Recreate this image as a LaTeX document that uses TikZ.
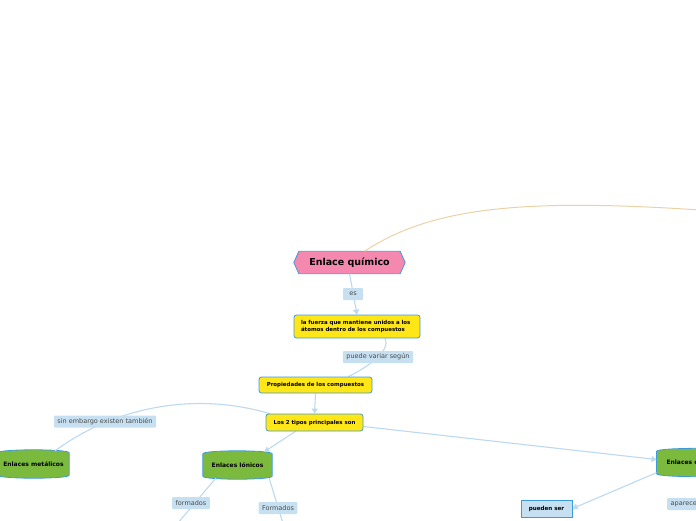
\documentclass[tikz,border=0pt]{standalone}
\usepackage{fontspec}
\setmainfont{DejaVu Sans}
\usetikzlibrary{arrows.meta,backgrounds}
\definecolor{pinkfill}{HTML}{F488AE}
\definecolor{bborder}{HTML}{3E9BDA}
\definecolor{yfill}{HTML}{FFE617}
\definecolor{gfill}{HTML}{7CBA3E}
\definecolor{lblfill}{HTML}{C6E0F2}
\definecolor{lineblue}{HTML}{BCD9EF}
\definecolor{lbltext}{HTML}{4A4A4A}
\definecolor{tan}{HTML}{E9D3A6}
\tikzset{
  conn/.style={draw=lineblue, line width=1.1pt},
  arr/.style={conn, -{Triangle[length=5pt,width=6pt,fill=lineblue]}},
  lbl/.style={fill=lblfill, inner xsep=3.5pt, inner ysep=0pt, minimum height=12pt, text=lbltext, rounded corners=1pt, font=\fontsize{6.5}{7.5}\selectfont},
  ybox/.style={fill=yfill, draw=bborder, line width=0.8pt, rounded corners=2.5pt, inner ysep=0pt, font=\bfseries\fontsize{5.45}{6.3}\selectfont},
  gnode/.style={inner sep=0pt, minimum height=22pt, font=\bfseries\fontsize{6}{7}\selectfont},
  gshape/.style={fill=gfill, draw=bborder, line width=0.8pt},
  bbox/.style={fill=lblfill, draw=bborder, line width=1pt, inner sep=0pt, font=\bfseries\fontsize{5.6}{6.5}\selectfont},
}
\newcommand\mycyl[1]{\path[gshape] (#1.south west) -- (#1.north west) .. controls ([yshift=4pt]#1.north west) and ([yshift=4pt]#1.north east) .. (#1.north east) -- (#1.south east) .. controls ([yshift=-4pt]#1.south east) and ([yshift=-4pt]#1.south west) .. cycle;}
\begin{document}
\begin{tikzpicture}[x=1pt,y=1pt]
\useasboundingbox (0,0) rectangle (696,-520);
\clip (0,0) rectangle (696,-520);
% nodes
\node[inner sep=0pt, minimum width=111pt, minimum height=22pt, font=\bfseries\fontsize{9.5}{11}\selectfont] (root) at (349.5,-262.5) {Enlace químico};
\node[ybox, minimum width=126pt, minimum height=23pt, align=left, text width=112pt] (fuerza) at (357,-326.5) {la fuerza que mantiene unidos a los\\átomos dentro de los compuestos};
\node[ybox, minimum width=113pt, minimum height=16pt] (prop) at (315.5,-385) {Propiedades de los compuestos};
\node[ybox, minimum width=97pt, minimum height=17pt] (tipos) at (314.5,-422.5) {Los 2 tipos principales son};
\node[gnode, minimum width=71pt] (met) at (33.5,-464) {Enlaces metálicos};
\node[gnode, minimum width=69pt] (ion) at (237.5,-465) {Enlaces Iónicos};
\node[gnode, minimum width=84pt, anchor=west] (cov) at (656.5,-462.5) {Enlaces covalentes};
\node[bbox, minimum width=51pt, minimum height=17pt] (pueden) at (546.5,-508.5) {pueden ser};
% shapes behind
\begin{scope}[on background layer]
\path[fill=pinkfill, draw=bborder, line width=0.8pt] (root.west) -- ([xshift=5pt]root.north west) -- ([xshift=-5pt]root.north east) -- (root.east) -- ([xshift=-5pt]root.south east) -- ([xshift=5pt]root.south west) -- cycle;
\mycyl{met}
\mycyl{ion}
\mycyl{cov}
\end{scope}
% free ends
\coordinate (endA) at (700,-210);
\coordinate (endB) at (172,-530);
\coordinate (endC) at (285,-530);
% connectors
\begin{scope}[on background layer]
\draw[draw=tan, line width=1pt] ([xshift=15pt]root.north) .. controls (430,-208) and (520,-198) .. (endA);
\draw[arr] (root.south) -- (fuerza.north);
\draw[conn] ([xshift=28pt]fuerza.south) .. controls (392,-352) and (362,-370) .. ([xshift=33pt]prop.north);
\draw[arr] (prop.south) -- (tipos.north);
\draw[conn] ([xshift=4pt]tipos.north west) .. controls (190,-390) and (110,-410) .. ([xshift=-14pt,yshift=2pt]met.north east);
\draw[arr] ([xshift=-19pt]tipos.south) -- ([xshift=-8pt,yshift=2pt]ion.north east);
\draw[arr] ([yshift=-4pt]tipos.east) -- ([yshift=3pt]cov.west);
\draw[conn] ([xshift=13pt,yshift=-2pt]ion.south west) -- (endB);
\draw[conn] ([xshift=-3pt,yshift=-2pt]ion.south east) -- (endC);
\draw[arr] ([yshift=1pt]cov.south west) -- (pueden.east);
\end{scope}
% labels
\node[lbl, minimum width=20pt] (es) at (353,-294) {es};
\node[lbl] (puede) at (378,-357) {puede variar según};
\node[lbl] (sin) at (105,-421.5) {sin embargo existen también};
\node[lbl] (form1) at (191,-503) {formados};
\node[lbl] (form2) at (278,-508) {Formados};
\node[lbl, anchor=west] (apar) at (667,-504) {aparecen};
\end{tikzpicture}
\end{document}
